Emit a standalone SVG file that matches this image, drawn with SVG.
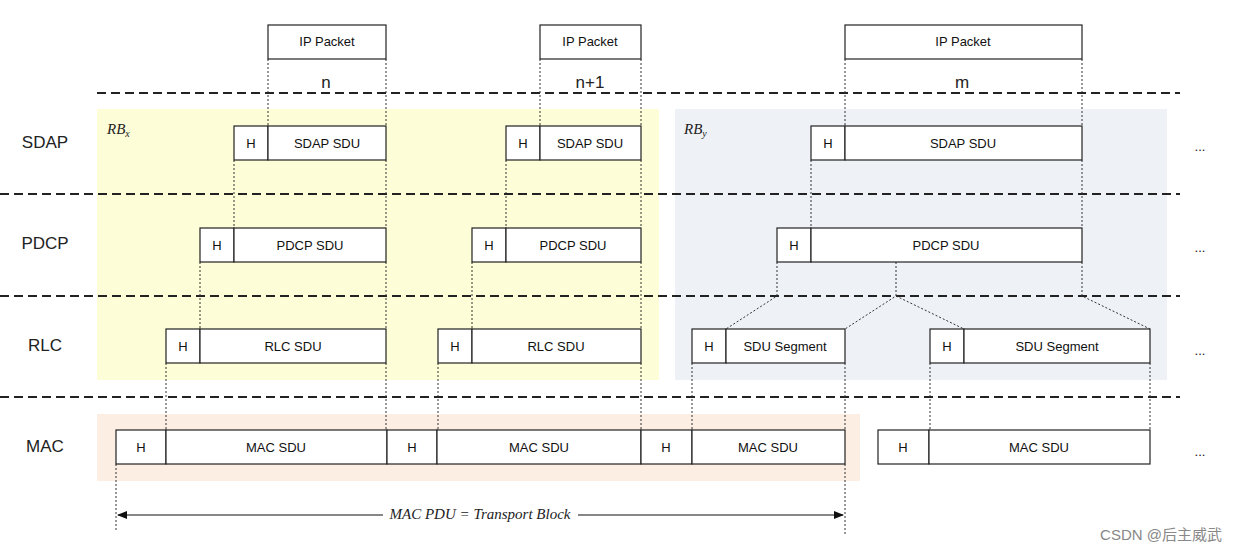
<svg xmlns="http://www.w3.org/2000/svg" width="1238" height="557" viewBox="0 0 1238 557">
<defs>
<style>
.b{fill:#fff;stroke:#222;stroke-width:1.2}
.t{font-family:"Liberation Sans",Arial,sans-serif;font-size:13px;fill:#111;text-anchor:middle;dominant-baseline:central}
.l{font-family:"Liberation Sans",Arial,sans-serif;font-size:17px;fill:#222;text-anchor:middle;dominant-baseline:central}
.d{stroke:#222;stroke-width:2;stroke-dasharray:9 5;fill:none}
.o{stroke:#333;stroke-width:1;stroke-dasharray:2 2;fill:none}
.rb{font-family:"Liberation Serif",serif;font-style:italic;font-size:15px;fill:#222}
</style>
<marker id="a" markerWidth="10" markerHeight="8" refX="9" refY="4" orient="auto-start-reverse" markerUnits="userSpaceOnUse"><path d="M0,0L10,4L0,8z" fill="#111"/></marker>
</defs>
<rect width="1238" height="557" fill="#fff"/>
<g id="bg">
<rect x="97" y="109" width="562" height="271" fill="#fdfdd8"/>
<rect x="675" y="109" width="492" height="271" fill="#eef1f6"/>
<rect x="97" y="414" width="763" height="67" fill="#fdeee3"/>
</g>
<g id="layers">
<path class="d" d="M97,93H1180M0,194H1180M0,296H1180M0,397H1180"/>
<text class="l" x="45" y="142">SDAP</text>
<text class="l" x="45" y="243">PDCP</text>
<text class="l" x="45" y="345">RLC</text>
<text class="l" x="45" y="446">MAC</text>
<text class="rb" x="107" y="134">RB<tspan font-size="10" dy="3">x</tspan></text>
<text class="rb" x="684" y="134">RB<tspan font-size="10" dy="3">y</tspan></text>
<g class="t"><text x="1200" y="146">...</text><text x="1200" y="247">...</text><text x="1200" y="350">...</text><text x="1200" y="451">...</text></g>
<text class="l" x="326" y="82">n</text>
<text class="l" x="590" y="82">n+1</text>
<text class="l" x="962" y="82">m</text>
</g>
<g id="connectors">
<path class="o" d="M268,59V126M386,59V126M234,160V228M386,160V228M200,262V329M386,262V329M166,363V430M386,363V430"/>
<path class="o" d="M540,59V126M641,59V126M506,160V228M641,160V228M472,262V329M641,262V329M438,363V430M641,363V430"/>
<path class="o" d="M845,59V126M1082,59V126M811,160V228M1082,160V228M777,262V296L726,329M896,262V296L845,329M896,296L964,329M1082,262V296L1150,329M692,363V430M845,363V430M930,363V430M1150,363V430"/>
<path class="o" d="M116,464V530M845,464V535"/>
<path d="M118,515H383M578,515H843" stroke="#111" stroke-width="1.2" marker-start="url(#a)" marker-end="url(#a)" fill="none"/>
<text class="rb" x="480" y="519" text-anchor="middle" font-size="14">MAC PDU = Transport Block</text>
</g>
<g id="ip1"><rect class="b" x="268" y="25" width="118" height="34"/><text class="t" x="327" y="41">IP Packet</text></g>
<g id="ip2"><rect class="b" x="540" y="25" width="101" height="34"/><text class="t" x="590" y="41">IP Packet</text></g>
<g id="ip3"><rect class="b" x="845" y="25" width="237" height="34"/><text class="t" x="963" y="41">IP Packet</text></g>
<g id="sdap1"><rect class="b" x="234" y="126" width="34" height="34"/><rect class="b" x="268" y="126" width="118" height="34"/><text class="t" x="251" y="143">H</text><text class="t" x="327" y="143">SDAP SDU</text></g>
<g id="sdap2"><rect class="b" x="506" y="126" width="34" height="34"/><rect class="b" x="540" y="126" width="101" height="34"/><text class="t" x="523" y="143">H</text><text class="t" x="590" y="143">SDAP SDU</text></g>
<g id="sdap3"><rect class="b" x="811" y="126" width="34" height="34"/><rect class="b" x="845" y="126" width="237" height="34"/><text class="t" x="828" y="143">H</text><text class="t" x="963" y="143">SDAP SDU</text></g>
<g id="pdcp1"><rect class="b" x="200" y="228" width="34" height="34"/><rect class="b" x="234" y="228" width="152" height="34"/><text class="t" x="217" y="245">H</text><text class="t" x="310" y="245">PDCP SDU</text></g>
<g id="pdcp2"><rect class="b" x="472" y="228" width="34" height="34"/><rect class="b" x="506" y="228" width="135" height="34"/><text class="t" x="489" y="245">H</text><text class="t" x="573" y="245">PDCP SDU</text></g>
<g id="pdcp3"><rect class="b" x="777" y="228" width="34" height="34"/><rect class="b" x="811" y="228" width="271" height="34"/><text class="t" x="794" y="245">H</text><text class="t" x="946" y="245">PDCP SDU</text></g>
<g id="rlc1"><rect class="b" x="166" y="329" width="34" height="34"/><rect class="b" x="200" y="329" width="186" height="34"/><text class="t" x="183" y="346">H</text><text class="t" x="293" y="346">RLC SDU</text></g>
<g id="rlc2"><rect class="b" x="438" y="329" width="34" height="34"/><rect class="b" x="472" y="329" width="169" height="34"/><text class="t" x="455" y="346">H</text><text class="t" x="556" y="346">RLC SDU</text></g>
<g id="rlc3"><rect class="b" x="692" y="329" width="34" height="34"/><rect class="b" x="726" y="329" width="119" height="34"/><text class="t" x="709" y="346">H</text><text class="t" x="785" y="346">SDU Segment</text></g>
<g id="rlc4"><rect class="b" x="930" y="329" width="34" height="34"/><rect class="b" x="964" y="329" width="186" height="34"/><text class="t" x="947" y="346">H</text><text class="t" x="1057" y="346">SDU Segment</text></g>
<g id="mac1"><rect class="b" x="116" y="430" width="50" height="34"/><rect class="b" x="166" y="430" width="221" height="34"/><rect class="b" x="387" y="430" width="50" height="34"/><rect class="b" x="437" y="430" width="204" height="34"/><rect class="b" x="641" y="430" width="51" height="34"/><rect class="b" x="692" y="430" width="153" height="34"/>
<text class="t" x="141" y="447">H</text><text class="t" x="276" y="447">MAC SDU</text><text class="t" x="412" y="447">H</text><text class="t" x="539" y="447">MAC SDU</text><text class="t" x="666" y="447">H</text><text class="t" x="768" y="447">MAC SDU</text></g>
<g id="mac2"><rect class="b" x="878" y="430" width="51" height="34"/><rect class="b" x="929" y="430" width="221" height="34"/><text class="t" x="903" y="447">H</text><text class="t" x="1039" y="447">MAC SDU</text></g>
<text x="1222" y="540" font-family="'Liberation Sans','Noto Sans CJK SC',sans-serif" font-size="15" fill="#888" text-anchor="end">CSDN @后主威武</text>
</svg>
